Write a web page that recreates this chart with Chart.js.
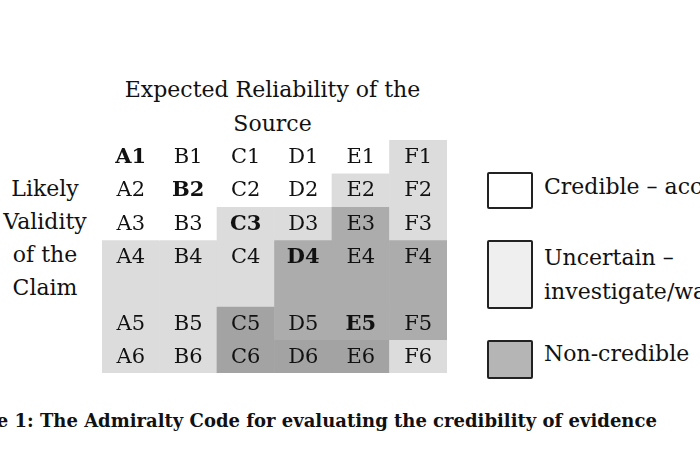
<!DOCTYPE html>
<html>
<head>
<meta charset="utf-8">
<script src="https://cdn.jsdelivr.net/npm/chart.js@4"></script>
<style>
  body { margin: 0; background: #fff; }
  #wrap { position: relative; width: 700px; height: 465px; overflow: hidden; font-family: "DejaVu Serif", serif; color: #111; }
  .t { position: absolute; white-space: nowrap; }
  #grid { position: absolute; left: 102px; top: 140px; width: 345px; height: 233px; }
  .box { position: absolute; left: 487px; width: 42px; border: 2px solid #222; border-radius: 2px; }
</style>
</head>
<body>
<div id="wrap">
  <div class="t" style="left:100px;width:345px;top:73px;text-align:center;font-size:22px;line-height:34px;">Expected Reliability of the<br>Source</div>
  <div class="t" style="left:-15px;width:120px;top:172px;text-align:center;font-size:22px;line-height:33px;">Likely<br>Validity<br>of the<br>Claim</div>
  <div id="grid"><canvas id="c"></canvas></div>
  <div class="box" style="top:172px;height:33px;background:#ffffff;"></div>
  <div class="box" style="top:240px;height:65px;background:#efefef;"></div>
  <div class="box" style="top:340px;height:35px;background:#b5b5b5;"></div>
  <div class="t" style="left:544px;top:174px;font-size:22px;">Credible – accept</div>
  <div class="t" style="left:544px;top:241px;font-size:22px;line-height:34px;">Uncertain –<br>investigate/wait</div>
  <div class="t" style="left:544px;top:341px;font-size:22px;">Non-credible</div>
  <div class="t" style="left:-58px;top:410px;font-size:18px;font-weight:bold;">Figure 1: The Admiralty Code for evaluating the credibility of evidence</div>
</div>
<script>
const columns = ['A', 'B', 'C', 'D', 'E', 'F'];
const rows = ['1', '2', '3', '4', '5', '6'];
// row boundaries in row units (row 4 is drawn twice as tall)
const rowEdges = [0, 1, 2, 3, 5, 6, 7];
// 0 = credible, 1 = uncertain, 2 = non-credible, 3 = non-credible (darker)
const levels = [
  [0, 0, 0, 0, 0, 1],
  [0, 0, 0, 0, 1, 1],
  [0, 0, 1, 1, 2, 1],
  [1, 1, 1, 2, 2, 2],
  [1, 1, 3, 2, 2, 2],
  [1, 1, 3, 3, 3, 1]
];
const boldCells = ['A1', 'B2', 'C3', 'D4', 'E5'];
const levelColors = ['#ffffff', '#dcdcdc', '#acacac', '#a3a3a3'];

const datasets = rows.map((r, i) => ({
  label: r,
  data: columns.map(() => [rowEdges[i], rowEdges[i + 1]]),
  backgroundColor: levels[i].map(l => levelColors[l]),
  borderWidth: 0,
  barPercentage: 1,
  categoryPercentage: 1,
  grouped: false
}));

const cellLabels = {
  id: 'cellLabels',
  afterDatasetsDraw(chart) {
    const ctx = chart.ctx;
    const y = chart.scales.y;
    ctx.save();
    ctx.fillStyle = '#111';
    ctx.textAlign = 'center';
    ctx.textBaseline = 'middle';
    chart.data.datasets.forEach((ds, i) => {
      const cy = y.getPixelForValue(rowEdges[i] + 0.5);
      chart.getDatasetMeta(i).data.forEach((bar, j) => {
        const name = columns[j] + rows[i];
        ctx.font = (boldCells.includes(name) ? 'bold ' : '') + '21px "DejaVu Serif", serif';
        ctx.fillText(name, bar.x, cy + 1);
      });
    });
    ctx.restore();
  }
};

new Chart(document.getElementById('c'), {
  type: 'bar',
  data: { labels: columns, datasets },
  options: {
    responsive: true,
    maintainAspectRatio: false,
    animation: false,
    layout: { padding: 0 },
    scales: {
      x: { display: false, stacked: false },
      y: { display: false, reverse: true, min: 0, max: 7 }
    },
    plugins: { legend: { display: false }, tooltip: { enabled: false } }
  },
  plugins: [cellLabels]
});
</script>
</body>
</html>
